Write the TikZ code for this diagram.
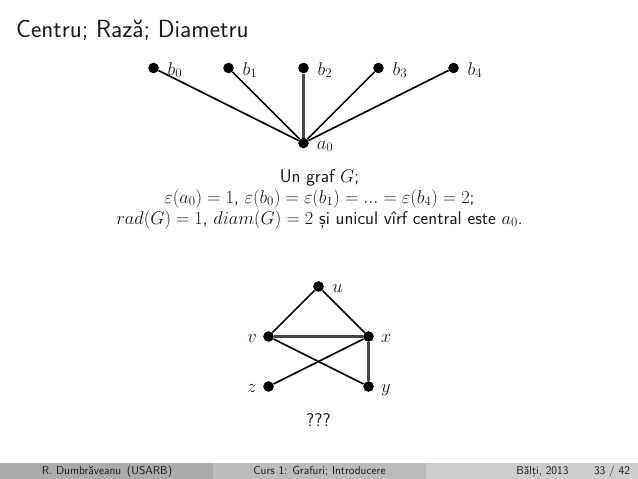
\RequirePackage{fix-cm}
\documentclass[tikz,border=0pt]{standalone}
\usepackage{fontspec}
\renewcommand{\familydefault}{\sfdefault}
\definecolor{footA}{HTML}{ABABAB}
\definecolor{footB}{HTML}{BCBCBC}
\definecolor{footC}{HTML}{CECECE}
\definecolor{txt}{HTML}{1A1A1A}
\tikzset{
  vertex/.style={circle,fill=black,inner sep=0pt,minimum size=10.6pt},
  edge/.style={draw=black,line width=1.6pt},
  axisedge/.style={draw=black!72,line width=2.05pt},
  vlabel/.style={inner sep=0pt,text=txt,font=\fontsize{18.6}{22}\selectfont},
  body/.style={inner sep=0pt,text=txt,font=\fontsize{18.4}{22}\selectfont},
  foot/.style={inner sep=0pt,text=txt,font=\fontsize{11.6}{14}\selectfont,anchor=base},
}
\begin{document}
\begin{tikzpicture}[x=1pt,y=-1pt]
\useasboundingbox (0,0) rectangle (638,479);
\fill[white] (0,0) rectangle (638,479);
\fill[footA] (0,463) rectangle (212.7,479);
\fill[footB] (212.7,463) rectangle (425.7,479);
\fill[footC] (425.7,463) rectangle (638,479);
\node[inner sep=0pt,anchor=base west,text=txt,font=\fontsize{24.8}{28}\selectfont] (title) at (16,37) {Centru; Rază; Diametru};
% edges first so that the vertices sit on top
\node[vertex] (b0) at (153.5,68) {};
\node[vertex] (b1) at (228.5,68) {};
\node[vertex] (b2) at (303.5,68) {};
\node[vertex] (b3) at (378.5,68) {};
\node[vertex] (b4) at (453.5,68) {};
\node[vertex] (a0) at (303.5,143) {};
\draw[edge] (a0) -- (b0);
\draw[edge] (a0) -- (b1);
\draw[axisedge] (a0) -- (b2);
\draw[edge] (a0) -- (b3);
\draw[edge] (a0) -- (b4);
\node[vlabel,anchor=base] (lb0) at (175,75) {$b_0$};
\node[vlabel,anchor=base] (lb1) at (250,75) {$b_1$};
\node[vlabel,anchor=base] (lb2) at (325,75) {$b_2$};
\node[vlabel,anchor=base] (lb3) at (400,75) {$b_3$};
\node[vlabel,anchor=base] (lb4) at (475,75) {$b_4$};
\node[vlabel,anchor=base] (la0) at (325,149) {$a_0$};
% text
\node[body,anchor=base] (t1) at (319.5,182) {Un graf $G$;};
\node[body,anchor=base] (t2) at (319.5,203) {$\varepsilon(a_0)=1$, $\varepsilon(b_0)=\varepsilon(b_1)=...=\varepsilon(b_4)=2$;};
\node[body,anchor=base] (t3) at (319.5,224) {$rad(G)=1$, $diam(G)=2$ și unicul vîrf central este $a_0$.};
% second graph
\node[vertex] (u) at (318.5,286.5) {};
\node[vertex] (v) at (268.5,336.5) {};
\node[vertex] (x) at (368.5,336.5) {};
\node[vertex] (z) at (268.5,386.5) {};
\node[vertex] (y) at (368.5,386.5) {};
\draw[edge] (u) -- (v);
\draw[edge] (u) -- (x);
\draw[axisedge] (v) -- (x);
\draw[edge] (v) -- (y);
\draw[axisedge] (x) -- (y);
\draw[edge] (x) -- (z);
\node[vlabel,anchor=base] (lu) at (337.5,292) {$u$};
\node[vlabel,anchor=base] (lv) at (252,342) {$v$};
\node[vlabel,anchor=base] (lx) at (386,342) {$x$};
\node[vlabel,anchor=base] (lz) at (252,392) {$z$};
\node[vlabel,anchor=base] (ly) at (386,392) {$y$};
\node[body,anchor=base] (q) at (318.5,426) {???};
% footer
\node[foot] (f1) at (107,474) {R. Dumbrăveanu\hspace{0.5em}(USARB)};
\node[foot] (f2) at (319.5,474) {Curs 1: Grafuri; Introducere};
\node[foot] (f3) at (542.5,474) {Bălți, 2013};
\node[foot] (f4) at (612,474) {33 / 42};
\end{tikzpicture}
\end{document}
